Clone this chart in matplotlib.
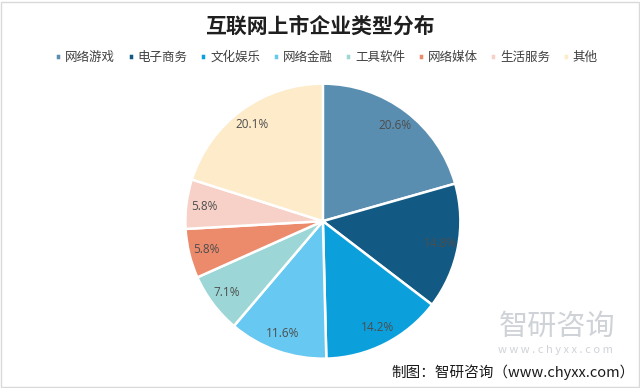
import matplotlib

matplotlib.use("Agg")
import matplotlib.pyplot as plt
from matplotlib.patches import Rectangle

plt.rcParams["font.family"] = ["Noto Sans CJK SC", "DejaVu Sans"]

CATEGORIES = ["网络游戏", "电子商务", "文化娱乐", "网络金融", "工具软件", "网络媒体", "生活服务", "其他"]
SHARES = [20.6, 14.8, 14.2, 11.6, 7.1, 5.8, 5.8, 20.1]
COLORS = ["#5a8eb0", "#125a83", "#0ba0dc", "#67c8f1", "#9dd6d6", "#ec8a6c", "#f7d1c7", "#fdebc9"]
TITLE = "互联网上市企业类型分布"
SOURCE = "制图：智研咨询（www.chyxx.com）"

fig = plt.figure(figsize=(6.4, 3.88), dpi=100)
fig.patches.append(Rectangle((0.002, 0.002), 0.996, 0.994, transform=fig.transFigure,
                             fill=False, edgecolor="#d9d9d9", linewidth=1))

ax = fig.add_axes([0.2875, 0.072, 0.434, 0.716])
wedges, _, autotexts = ax.pie(
    SHARES, colors=COLORS, startangle=90, counterclock=False,
    autopct="%.1f%%", pctdistance=0.87,
    wedgeprops=dict(edgecolor="white", linewidth=1.8),
    textprops=dict(color="#4d4d4d", fontsize=8.5, family=["Open Sans", "DejaVu Sans"]))
ax.set_aspect("equal")
ax.set_xlim(-1.01, 1.01)
ax.set_ylim(-1.01, 1.01)

fig.text(0.5, 0.933, TITLE, ha="center", va="center", fontsize=15, fontweight="bold", color="#1f1f1f")
fig.legend(wedges, CATEGORIES, loc="center", bbox_to_anchor=(0.51, 0.853), ncol=8,
           frameon=False, fontsize=9, handlelength=0.5, handleheight=0.5,
           handletextpad=0.3, columnspacing=1.0, labelcolor="#404040")

# watermark
fig.text(0.87, 0.157, "智研咨询", ha="center", va="center", fontsize=21, color="#cfd3d8")
fig.text(0.868, 0.098, "w w w . c h y x x . c o m", ha="center", va="center", fontsize=8, color="#cfd3d8")
fig.text(0.992, 0.041, SOURCE, ha="right", va="center", fontsize=10.5, color="#1a1a1a")

fig.savefig("out.png", dpi=100)
